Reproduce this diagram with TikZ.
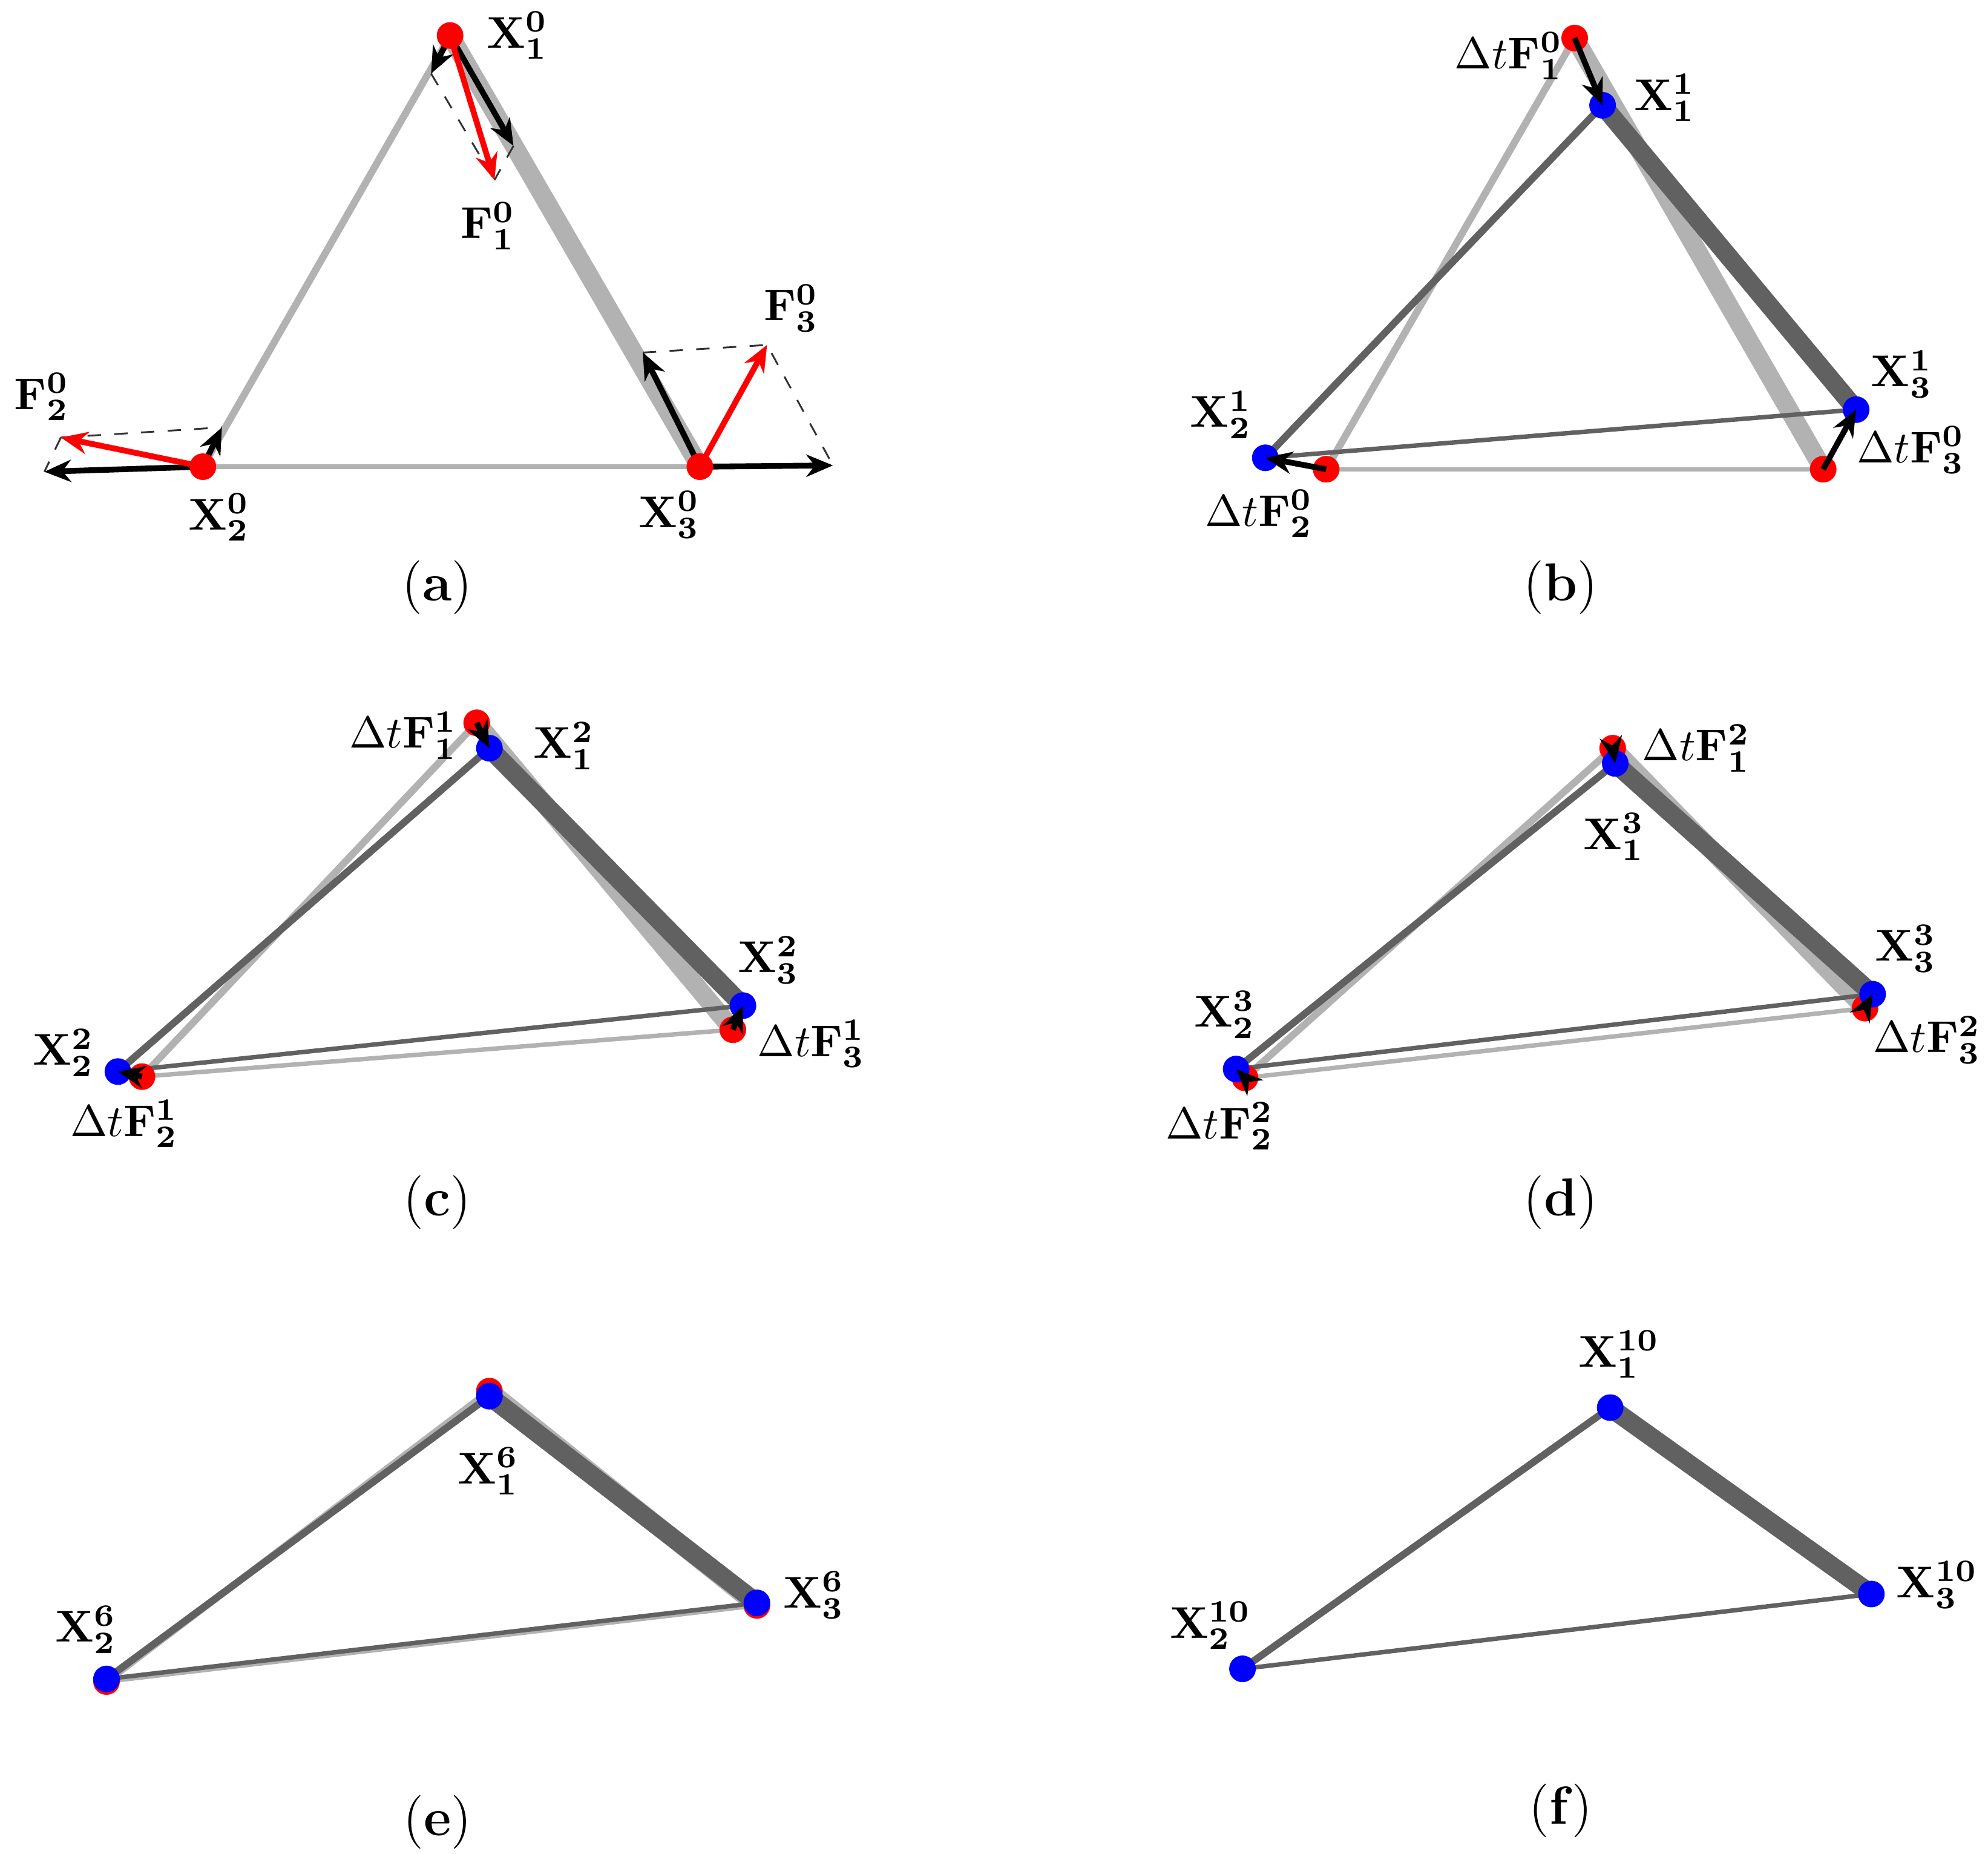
\documentclass[tikz,border=0pt]{standalone}
\usepackage{amsmath}
\usetikzlibrary{arrows.meta}
\begin{document}
\begin{tikzpicture}[x=0.01cm,y=-0.01cm,
  old/.style={draw=black!30,line cap=round},
  new/.style={draw=black!62,line cap=round},
  ea/.style={line width=1.6pt},
  eb/.style={line width=4.2pt},
  ec/.style={line width=1pt},
  rdot/.style={circle,fill=red,inner sep=0pt,minimum size=0.21cm},
  bdot/.style={circle,fill=blue,inner sep=0pt,minimum size=0.21cm},
  bk/.style={-{Stealth[length=6pt,width=5pt]},line width=1.3pt,black},
  rd/.style={-{Stealth[length=6pt,width=5pt]},line width=1.3pt,red},
  dsh/.style={dashed,line width=0.4pt,black!80},
  lab/.style={inner sep=1pt,font=\normalsize},
  captxt/.style={font=\large}]
\useasboundingbox (0,0) rectangle (1568,1462);
% ---------- (a)
\coordinate (a1) at (355,28); \coordinate (a2) at (160,368); \coordinate (a3) at (552,368);
\draw[old,ea] (a1)--(a2); \draw[old,eb] (a1)--(a3); \draw[old,ec] (a2)--(a3);
\coordinate (a1l) at (340,58); \coordinate (a1r) at (405,115); \coordinate (a1f) at (390,142);
\draw[dsh] (a1l)--(a1f) (a1r)--(a1f);
\draw[bk] (a1)--(a1l); \draw[bk] (a1)--(a1r); \draw[rd] (a1)--(a1f);
\coordinate (a2l) at (35,372); \coordinate (a2u) at (175,337); \coordinate (a2f) at (48,345);
\draw[dsh] (a2f)--(a2u) (a2f)--(a2l);
\draw[bk] (a2)--(a2l); \draw[bk] (a2)--(a2u); \draw[rd] (a2)--(a2f);
\coordinate (a3r) at (657,367); \coordinate (a3u) at (507,278); \coordinate (a3f) at (605,272);
\draw[dsh] (a3u)--(a3f)--(a3r);
\draw[bk] (a3)--(a3r); \draw[bk] (a3)--(a3u); \draw[rd] (a3)--(a3f);
\node[rdot] (A1) at (a1) {}; \node[rdot] (A2) at (a2) {}; \node[rdot] (A3) at (a3) {};
\node[lab] (la1) at (408,28) {$\mathbf{X}_{\mathbf{1}}^{\mathbf{0}}$};
\node[lab] (lf1) at (385,178) {$\mathbf{F}_{\mathbf{1}}^{\mathbf{0}}$};
\node[lab] (lf2) at (33,313) {$\mathbf{F}_{\mathbf{2}}^{\mathbf{0}}$};
\node[lab] (la2) at (173,408) {$\mathbf{X}_{\mathbf{2}}^{\mathbf{0}}$};
\node[lab] (la3) at (528,406) {$\mathbf{X}_{\mathbf{3}}^{\mathbf{0}}$};
\node[lab] (lf3) at (624,243) {$\mathbf{F}_{\mathbf{3}}^{\mathbf{0}}$};
\node[captxt] (ca) at (345,463) {(\textbf{a})};
% ---------- generic step
\newcommand{\stepdraw}[9]{%
 \draw[old,ea] (#1)--(#2); \draw[old,eb] (#1)--(#3); \draw[old,ec] (#2)--(#3);
 \draw[new,ea] (#4)--(#5); \draw[new,eb] (#4)--(#6); \draw[new,ec] (#5)--(#6);
 \node[rdot] (#7o1) at (#1) {}; \node[rdot] (#7o2) at (#2) {}; \node[rdot] (#7o3) at (#3) {};
 \node[bdot] (#7n1) at (#4) {}; \node[bdot] (#7n2) at (#5) {}; \node[bdot] (#7n3) at (#6) {};
 \ifx#8y
 \draw[bk] (#1)--(#4); \draw[bk] (#2)--(#5); \draw[bk] (#3)--(#6);
 \fi}
% ---------- (b)
\coordinate (b1) at (1242,30); \coordinate (b2) at (1046,370); \coordinate (b3) at (1438,370);
\coordinate (B1) at (1264,83); \coordinate (B2) at (998,361); \coordinate (B3) at (1464,323);
\stepdraw{b1}{b2}{b3}{B1}{B2}{B3}{pb}{y}{}
\node[lab] at (1190,44) {$\Delta t\mathbf{F}_{\mathbf{1}}^{\mathbf{0}}$};
\node[lab] at (1313,77) {$\mathbf{X}_{\mathbf{1}}^{\mathbf{1}}$};
\node[lab] at (1500,295) {$\mathbf{X}_{\mathbf{3}}^{\mathbf{1}}$};
\node[lab] at (1507,355) {$\Delta t\mathbf{F}_{\mathbf{3}}^{\mathbf{0}}$};
\node[lab] at (963,327) {$\mathbf{X}_{\mathbf{2}}^{\mathbf{1}}$};
\node[lab] at (993,405) {$\Delta t\mathbf{F}_{\mathbf{2}}^{\mathbf{0}}$};
\node[captxt] at (1231,463) {(\textbf{b})};
% ---------- (c)
\coordinate (c1) at (376,570); \coordinate (c2) at (112,849); \coordinate (c3) at (578,812);
\coordinate (C1) at (386,590); \coordinate (C2) at (93,845); \coordinate (C3) at (586,793);
\stepdraw{c1}{c2}{c3}{C1}{C2}{C3}{pc}{y}{}
\node[lab] at (318,580) {$\Delta t\mathbf{F}_{\mathbf{1}}^{\mathbf{1}}$};
\node[lab] at (445,588) {$\mathbf{X}_{\mathbf{1}}^{\mathbf{2}}$};
\node[lab] at (606,757) {$\mathbf{X}_{\mathbf{3}}^{\mathbf{2}}$};
\node[lab] at (640,823) {$\Delta t\mathbf{F}_{\mathbf{3}}^{\mathbf{1}}$};
\node[lab] at (50,830) {$\mathbf{X}_{\mathbf{2}}^{\mathbf{2}}$};
\node[lab] at (98,886) {$\Delta t\mathbf{F}_{\mathbf{2}}^{\mathbf{1}}$};
\node[captxt] at (345,948) {(\textbf{c})};
% ---------- (d)
\coordinate (d1) at (1272,590); \coordinate (d2) at (982,850); \coordinate (d3) at (1471,795);
\coordinate (D1) at (1274,602); \coordinate (D2) at (975,843); \coordinate (D3) at (1477,784);
\stepdraw{d1}{d2}{d3}{D1}{D2}{D3}{pd}{y}{}
\node[lab] at (1338,590) {$\Delta t\mathbf{F}_{\mathbf{1}}^{\mathbf{2}}$};
\node[lab] at (1273,660) {$\mathbf{X}_{\mathbf{1}}^{\mathbf{3}}$};
\node[lab] at (1503,748) {$\mathbf{X}_{\mathbf{3}}^{\mathbf{3}}$};
\node[lab] at (1520,820) {$\Delta t\mathbf{F}_{\mathbf{3}}^{\mathbf{2}}$};
\node[lab] at (966,800) {$\mathbf{X}_{\mathbf{2}}^{\mathbf{3}}$};
\node[lab] at (962,888) {$\Delta t\mathbf{F}_{\mathbf{2}}^{\mathbf{2}}$};
\node[captxt] at (1231,948) {(\textbf{d})};
% ---------- (e)
\coordinate (e1) at (386,1097); \coordinate (e2) at (84,1326); \coordinate (e3) at (597,1266);
\coordinate (E1) at (386,1101); \coordinate (E2) at (84,1324); \coordinate (E3) at (597,1264);
\stepdraw{e1}{e2}{e3}{E1}{E2}{E3}{pe}{n}{}
\node[lab] at (385,1160) {$\mathbf{X}_{\mathbf{1}}^{\mathbf{6}}$};
\node[lab] at (642,1258) {$\mathbf{X}_{\mathbf{3}}^{\mathbf{6}}$};
\node[lab] at (68,1285) {$\mathbf{X}_{\mathbf{2}}^{\mathbf{6}}$};
\node[captxt] at (345,1437) {(\textbf{e})};
% ---------- (f)
\coordinate (F1) at (1270,1110); \coordinate (F2) at (980,1316); \coordinate (F3) at (1476,1257);
\draw[new,ea] (F1)--(F2); \draw[new,eb] (F1)--(F3); \draw[new,ec] (F2)--(F3);
\node[bdot] (pf1) at (F1) {}; \node[bdot] (pf2) at (F2) {}; \node[bdot] (pf3) at (F3) {};
\node[lab] at (1277,1068) {$\mathbf{X}_{\mathbf{1}}^{\mathbf{10}}$};
\node[lab] at (1528,1250) {$\mathbf{X}_{\mathbf{3}}^{\mathbf{10}}$};
\node[lab] at (955,1282) {$\mathbf{X}_{\mathbf{2}}^{\mathbf{10}}$};
\node[captxt] at (1231,1428) {(\textbf{f})};
\end{tikzpicture}
\end{document}
